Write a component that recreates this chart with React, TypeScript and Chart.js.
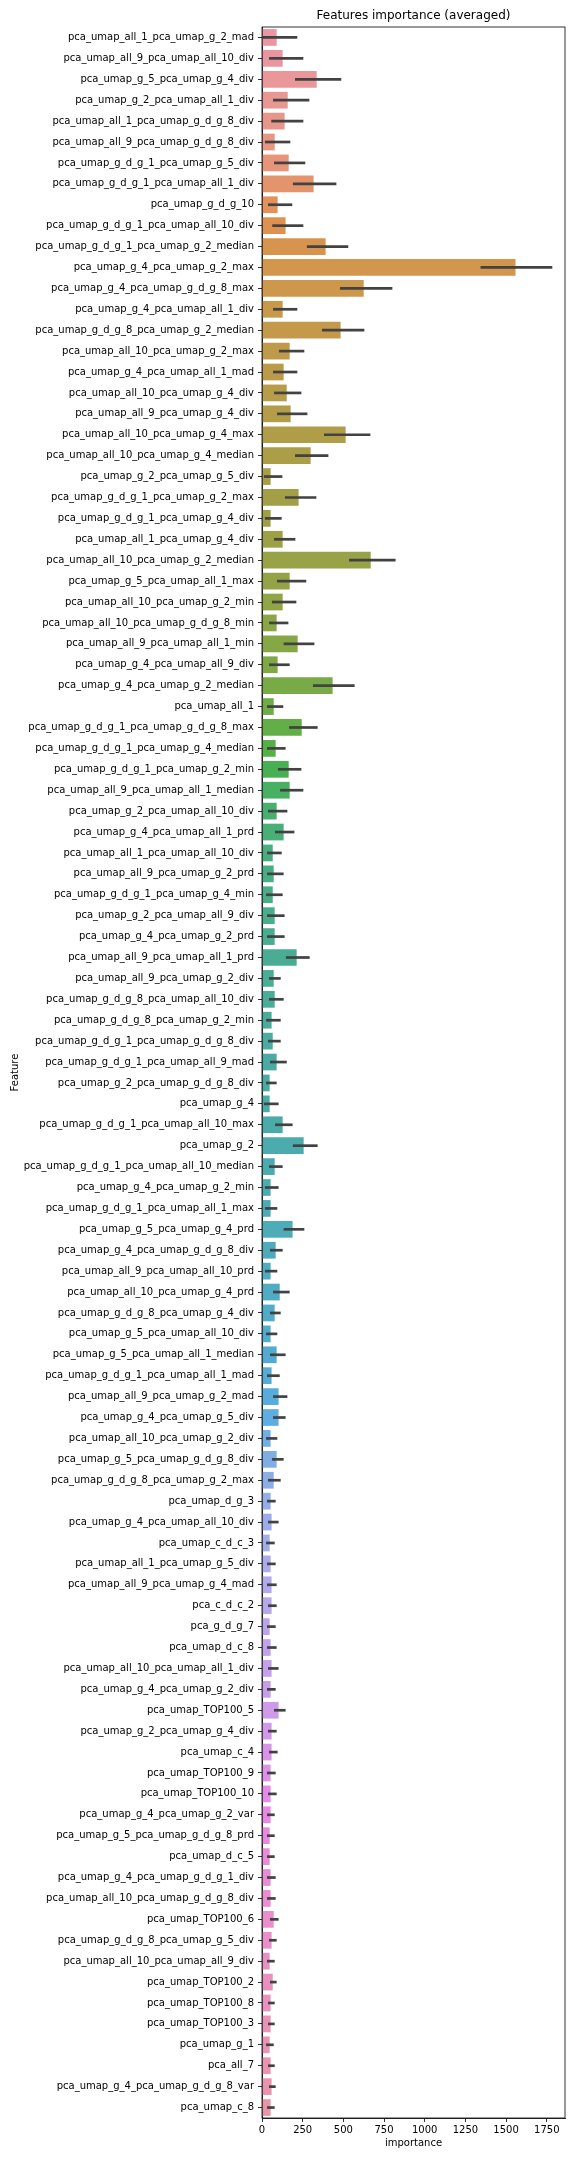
import React, { useEffect, useRef } from "react";
import { Chart, registerables } from "chart.js";

Chart.register(...registerables);

const chartTitle = "Features importance (averaged)";
const xAxisTitle = "importance";
const yAxisTitle = "Feature";

const features = [
  "pca_umap_all_1_pca_umap_g_2_mad",
  "pca_umap_all_9_pca_umap_all_10_div",
  "pca_umap_g_5_pca_umap_g_4_div",
  "pca_umap_g_2_pca_umap_all_1_div",
  "pca_umap_all_1_pca_umap_g_d_g_8_div",
  "pca_umap_all_9_pca_umap_g_d_g_8_div",
  "pca_umap_g_d_g_1_pca_umap_g_5_div",
  "pca_umap_g_d_g_1_pca_umap_all_1_div",
  "pca_umap_g_d_g_10",
  "pca_umap_g_d_g_1_pca_umap_all_10_div",
  "pca_umap_g_d_g_1_pca_umap_g_2_median",
  "pca_umap_g_4_pca_umap_g_2_max",
  "pca_umap_g_4_pca_umap_g_d_g_8_max",
  "pca_umap_g_4_pca_umap_all_1_div",
  "pca_umap_g_d_g_8_pca_umap_g_2_median",
  "pca_umap_all_10_pca_umap_g_2_max",
  "pca_umap_g_4_pca_umap_all_1_mad",
  "pca_umap_all_10_pca_umap_g_4_div",
  "pca_umap_all_9_pca_umap_g_4_div",
  "pca_umap_all_10_pca_umap_g_4_max",
  "pca_umap_all_10_pca_umap_g_4_median",
  "pca_umap_g_2_pca_umap_g_5_div",
  "pca_umap_g_d_g_1_pca_umap_g_2_max",
  "pca_umap_g_d_g_1_pca_umap_g_4_div",
  "pca_umap_all_1_pca_umap_g_4_div",
  "pca_umap_all_10_pca_umap_g_2_median",
  "pca_umap_g_5_pca_umap_all_1_max",
  "pca_umap_all_10_pca_umap_g_2_min",
  "pca_umap_all_10_pca_umap_g_d_g_8_min",
  "pca_umap_all_9_pca_umap_all_1_min",
  "pca_umap_g_4_pca_umap_all_9_div",
  "pca_umap_g_4_pca_umap_g_2_median",
  "pca_umap_all_1",
  "pca_umap_g_d_g_1_pca_umap_g_d_g_8_max",
  "pca_umap_g_d_g_1_pca_umap_g_4_median",
  "pca_umap_g_d_g_1_pca_umap_g_2_min",
  "pca_umap_all_9_pca_umap_all_1_median",
  "pca_umap_g_2_pca_umap_all_10_div",
  "pca_umap_g_4_pca_umap_all_1_prd",
  "pca_umap_all_1_pca_umap_all_10_div",
  "pca_umap_all_9_pca_umap_g_2_prd",
  "pca_umap_g_d_g_1_pca_umap_g_4_min",
  "pca_umap_g_2_pca_umap_all_9_div",
  "pca_umap_g_4_pca_umap_g_2_prd",
  "pca_umap_all_9_pca_umap_all_1_prd",
  "pca_umap_all_9_pca_umap_g_2_div",
  "pca_umap_g_d_g_8_pca_umap_all_10_div",
  "pca_umap_g_d_g_8_pca_umap_g_2_min",
  "pca_umap_g_d_g_1_pca_umap_g_d_g_8_div",
  "pca_umap_g_d_g_1_pca_umap_all_9_mad",
  "pca_umap_g_2_pca_umap_g_d_g_8_div",
  "pca_umap_g_4",
  "pca_umap_g_d_g_1_pca_umap_all_10_max",
  "pca_umap_g_2",
  "pca_umap_g_d_g_1_pca_umap_all_10_median",
  "pca_umap_g_4_pca_umap_g_2_min",
  "pca_umap_g_d_g_1_pca_umap_all_1_max",
  "pca_umap_g_5_pca_umap_g_4_prd",
  "pca_umap_g_4_pca_umap_g_d_g_8_div",
  "pca_umap_all_9_pca_umap_all_10_prd",
  "pca_umap_all_10_pca_umap_g_4_prd",
  "pca_umap_g_d_g_8_pca_umap_g_4_div",
  "pca_umap_g_5_pca_umap_all_10_div",
  "pca_umap_g_5_pca_umap_all_1_median",
  "pca_umap_g_d_g_1_pca_umap_all_1_mad",
  "pca_umap_all_9_pca_umap_g_2_mad",
  "pca_umap_g_4_pca_umap_g_5_div",
  "pca_umap_all_10_pca_umap_g_2_div",
  "pca_umap_g_5_pca_umap_g_d_g_8_div",
  "pca_umap_g_d_g_8_pca_umap_g_2_max",
  "pca_umap_d_g_3",
  "pca_umap_g_4_pca_umap_all_10_div",
  "pca_umap_c_d_c_3",
  "pca_umap_all_1_pca_umap_g_5_div",
  "pca_umap_all_9_pca_umap_g_4_mad",
  "pca_c_d_c_2",
  "pca_g_d_g_7",
  "pca_umap_d_c_8",
  "pca_umap_all_10_pca_umap_all_1_div",
  "pca_umap_g_4_pca_umap_g_2_div",
  "pca_umap_TOP100_5",
  "pca_umap_g_2_pca_umap_g_4_div",
  "pca_umap_c_4",
  "pca_umap_TOP100_9",
  "pca_umap_TOP100_10",
  "pca_umap_g_4_pca_umap_g_2_var",
  "pca_umap_g_5_pca_umap_g_d_g_8_prd",
  "pca_umap_d_c_5",
  "pca_umap_g_4_pca_umap_g_d_g_1_div",
  "pca_umap_all_10_pca_umap_g_d_g_8_div",
  "pca_umap_TOP100_6",
  "pca_umap_g_d_g_8_pca_umap_g_5_div",
  "pca_umap_all_10_pca_umap_all_9_div",
  "pca_umap_TOP100_2",
  "pca_umap_TOP100_8",
  "pca_umap_TOP100_3",
  "pca_umap_g_1",
  "pca_all_7",
  "pca_umap_g_4_pca_umap_g_d_g_8_var",
  "pca_umap_c_8",
];

const importance = [
  90, 127, 336, 158, 139, 78, 164, 317, 96, 145,
  391, 1558, 625, 127, 483, 170, 133, 152, 176, 514,
  299, 53, 225, 53, 127, 668, 170, 127, 90, 219,
  96, 434, 72, 244, 84, 164, 170, 90, 133, 66,
  72, 66, 78, 78, 213, 72, 78, 59, 66, 90,
  47, 47, 127, 256, 78, 53, 53, 188, 84, 53,
  109, 78, 53, 90, 59, 102, 102, 53, 90, 72,
  53, 59, 47, 53, 59, 59, 47, 53, 59, 53,
  102, 59, 59, 53, 53, 53, 47, 47, 53, 53,
  72, 59, 47, 66, 53, 53, 47, 53, 59, 53,
];

const errLow = [
  4, 43, 203, 68, 57, 18, 74, 190, 37, 63,
  276, 1343, 479, 68, 369, 104, 68, 74, 92, 381,
  203, 12, 141, 18, 74, 535, 92, 61, 43, 133,
  43, 313, 31, 166, 31, 98, 111, 37, 80, 31,
  31, 25, 31, 31, 147, 43, 43, 25, 37, 49,
  25, 12, 80, 190, 43, 18, 18, 133, 49, 18,
  68, 49, 25, 49, 31, 68, 68, 25, 61, 37,
  31, 37, 25, 31, 31, 37, 31, 31, 37, 31,
  74, 37, 43, 31, 37, 31, 31, 31, 31, 31,
  49, 43, 31, 49, 37, 37, 25, 37, 43, 31,
];

const errHigh = [
  217, 254, 487, 291, 254, 174, 266, 457, 186, 254,
  530, 1784, 801, 217, 629, 260, 217, 242, 279, 666,
  408, 125, 334, 121, 205, 821, 272, 211, 162, 322,
  170, 569, 131, 342, 145, 242, 254, 156, 199, 121,
  133, 127, 139, 139, 293, 115, 133, 115, 115, 152,
  90, 102, 188, 342, 127, 102, 94, 260, 127, 94,
  170, 115, 94, 145, 109, 156, 145, 94, 133, 115,
  84, 102, 78, 84, 90, 90, 84, 90, 102, 84,
  145, 90, 96, 84, 90, 78, 78, 78, 84, 84,
  102, 90, 78, 90, 78, 78, 72, 78, 84, 78,
];

const xTicks = [0, 250, 500, 750, 1000, 1250, 1500, 1750];
const xMax = 1862;

const FONT = "'DejaVu Sans', 'Liberation Sans', sans-serif";

// --- seaborn husl palette (husl_palette(n, h=.01, s=.9, l=.7)) + desaturation 0.75 ---
const M = [
  [3.2406, -1.5372, -0.4986],
  [-0.9689, 1.8758, 0.0415],
  [0.0557, -0.204, 1.057],
];

function maxChroma(L: number, H: number): number {
  const hrad = (H / 180) * Math.PI;
  const sinH = Math.sin(hrad);
  const cosH = Math.cos(hrad);
  const sub1 = Math.pow(L + 16, 3) / 1560896.0;
  const sub2 = sub1 > 0.008856 ? sub1 : L / 903.3;
  let result = Infinity;
  for (const row of M) {
    const [m1, m2, m3] = row;
    const top = (0.99915 * m1 + 1.05122 * m2 + 1.1446 * m3) * sub2;
    const rbottom = 0.8633 * m3 - 0.17266 * m2;
    const lbottom = 0.12949 * m3 - 0.38848 * m1;
    const bottom = (rbottom * sinH + lbottom * cosH) * sub2;
    for (const t of [0, 1]) {
      const C = (L * (top - 1.05122 * t)) / (bottom + 0.17266 * sinH * t);
      if (C > 0 && C < result) result = C;
    }
  }
  return result;
}

function fromLinear(c: number): number {
  if (c <= 0.0031308) return 12.92 * c;
  return 1.055 * Math.pow(c, 1 / 2.4) - 0.055;
}

function huslToRgb(H: number, S: number, L: number): number[] {
  const C = (maxChroma(L, H) / 100) * S;
  const hrad = (H / 180) * Math.PI;
  const U = Math.cos(hrad) * C;
  const V = Math.sin(hrad) * C;
  const t = (L + 16) / 116;
  const varY = t * t * t > 0.008856 ? t * t * t : (116 * t - 16) / 903.3;
  const varU = U / (13 * L) + 0.19784;
  const varV = V / (13 * L) + 0.46834;
  const Y = varY;
  const X = 0 - (9 * Y * varU) / ((varU - 4) * varV - varU * varV);
  const Z = (9 * Y - 15 * varV * Y - varV * X) / (3 * varV);
  return M.map((r) => {
    const v = fromLinear(r[0] * X + r[1] * Y + r[2] * Z);
    return Math.min(1, Math.max(0, v));
  });
}

function rgbToHls(r: number, g: number, b: number): number[] {
  const maxc = Math.max(r, g, b);
  const minc = Math.min(r, g, b);
  const l = (minc + maxc) / 2;
  if (minc === maxc) return [0, l, 0];
  const s = l <= 0.5 ? (maxc - minc) / (maxc + minc) : (maxc - minc) / (2 - maxc - minc);
  const rc = (maxc - r) / (maxc - minc);
  const gc = (maxc - g) / (maxc - minc);
  const bc = (maxc - b) / (maxc - minc);
  let h: number;
  if (r === maxc) h = bc - gc;
  else if (g === maxc) h = 2 + rc - bc;
  else h = 4 + gc - rc;
  h = (((h / 6) % 1) + 1) % 1;
  return [h, l, s];
}

function hv(m1: number, m2: number, hue: number): number {
  hue = ((hue % 1) + 1) % 1;
  if (hue < 1 / 6) return m1 + (m2 - m1) * hue * 6;
  if (hue < 0.5) return m2;
  if (hue < 2 / 3) return m1 + (m2 - m1) * (2 / 3 - hue) * 6;
  return m1;
}

function hlsToRgb(h: number, l: number, s: number): number[] {
  if (s === 0) return [l, l, l];
  const m2 = l <= 0.5 ? l * (1 + s) : l + s - l * s;
  const m1 = 2 * l - m2;
  return [hv(m1, m2, h + 1 / 3), hv(m1, m2, h), hv(m1, m2, h - 1 / 3)];
}

function barColors(n: number): string[] {
  const out: string[] = [];
  for (let i = 0; i < n; i++) {
    const hue = ((i / n + 0.01) % 1) * 359;
    const rgb = huslToRgb(hue, 0.9 * 99, 0.7 * 99);
    const [h, l, s] = rgbToHls(rgb[0], rgb[1], rgb[2]);
    const d = hlsToRgb(h, l, s * 0.75);
    out.push(
      `rgb(${Math.round(d[0] * 255)}, ${Math.round(d[1] * 255)}, ${Math.round(d[2] * 255)})`
    );
  }
  return out;
}

const decorPlugin = {
  id: "decor",
  afterDatasetsDraw(chart: any) {
    const { ctx, chartArea, scales } = chart;
    const xs = scales.x;
    const ys = scales.y;
    ctx.save();
    ctx.strokeStyle = "#424242";
    ctx.lineWidth = 2.7;
    ctx.lineCap = "butt";
    for (let i = 0; i < features.length; i++) {
      const py = ys.getPixelForValue(i);
      ctx.beginPath();
      ctx.moveTo(xs.getPixelForValue(errLow[i]), py);
      ctx.lineTo(xs.getPixelForValue(errHigh[i]), py);
      ctx.stroke();
    }
    ctx.strokeStyle = "#000";
    ctx.lineWidth = 0.8;
    ctx.strokeRect(
      chartArea.left,
      chartArea.top,
      chartArea.right - chartArea.left,
      chartArea.bottom - chartArea.top
    );
    ctx.fillStyle = "#000";
    ctx.font = `12px ${FONT}`;
    ctx.textAlign = "center";
    ctx.textBaseline = "middle";
    ctx.fillText(chartTitle, (chartArea.left + chartArea.right) / 2, 16);
    ctx.restore();
  },
};

export default function App() {
  const ref = useRef<HTMLCanvasElement | null>(null);

  useEffect(() => {
    document.body.style.margin = "0";
    const canvas = ref.current;
    if (!canvas) return;
    const chart = new Chart(canvas, {
      type: "bar",
      data: {
        labels: features,
        datasets: [
          {
            data: importance,
            backgroundColor: barColors(features.length),
            borderWidth: 0,
            barPercentage: 0.8,
            categoryPercentage: 1,
          },
        ],
      },
      options: {
        indexAxis: "y",
        responsive: false,
        animation: false,
        devicePixelRatio: 1,
        layout: { padding: { top: 27, right: 11, bottom: 0, left: 0 } },
        plugins: {
          legend: { display: false },
          tooltip: { enabled: false },
          title: { display: false },
        },
        scales: {
          x: {
            type: "linear",
            position: "bottom",
            min: 0,
            max: xMax,
            afterBuildTicks: (s: any) => {
              s.ticks = xTicks.map((v) => ({ value: v }));
            },
            afterFit: (s: any) => {
              s.height = 42;
            },
            ticks: {
              callback: (v: any) => String(v),
              font: { family: FONT, size: 10 },
              color: "#000",
              padding: 2,
              maxRotation: 0,
              autoSkip: false,
            },
            grid: {
              drawOnChartArea: false,
              drawTicks: true,
              tickLength: 4,
              tickColor: "#000",
              tickWidth: 0.8,
            },
            border: { display: true, color: "#000", width: 0.8 },
            title: {
              display: true,
              text: xAxisTitle,
              font: { family: FONT, size: 10 },
              color: "#000",
              padding: { top: 0, bottom: 11 },
            },
          },
          y: {
            type: "category",
            position: "left",
            afterFit: (s: any) => {
              s.width = 262;
            },
            ticks: {
              autoSkip: false,
              font: { family: FONT, size: 10 },
              color: "#000",
              padding: 4,
            },
            grid: {
              offset: false,
              drawOnChartArea: false,
              drawTicks: true,
              tickLength: 4,
              tickColor: "#000",
              tickWidth: 0.8,
            },
            border: { display: true, color: "#000", width: 0.8 },
            title: {
              display: true,
              text: yAxisTitle,
              font: { family: FONT, size: 10 },
              color: "#000",
              padding: { top: 9, bottom: 0 },
            },
          },
        },
      } as any,
      plugins: [decorPlugin],
    });
    return () => chart.destroy();
  }, []);

  return (
    <div style={{ width: 576, height: 2160, background: "#fff" }}>
      <canvas ref={ref} width={576} height={2160} style={{ display: "block" }} />
    </div>
  );
}
